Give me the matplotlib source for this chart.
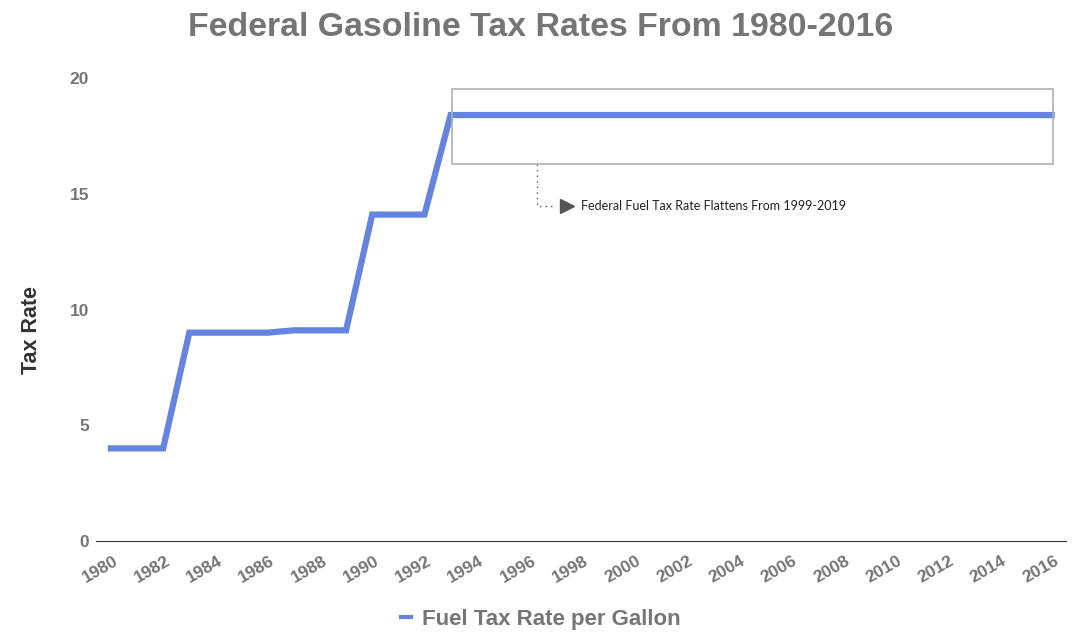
import numpy as np
import matplotlib.pyplot as plt
import matplotlib.transforms as mtransforms
from matplotlib.patches import Rectangle

years = list(range(1980, 2017))
tax_rate = [4.0, 4.0, 4.0, 9.0, 9.0, 9.0, 9.0, 9.1, 9.1, 9.1,
            14.1, 14.1, 14.1] + [18.4] * 24
tick_years = list(range(1980, 2017, 2))
y_ticks = [0, 5, 10, 15, 20]

grey = '#757575'
blue = '#6584e0'
plt.rcParams['font.family'] = ['Liberation Sans', 'DejaVu Sans']

fig = plt.figure(figsize=(10.82, 6.38), dpi=100)
ax = fig.add_axes([96/1082, 1-541/638, (1066-96)/1082, (541-78)/638])

ax.plot(years, tax_rate, color=blue, lw=4.5, solid_joinstyle='miter', label='Fuel Tax Rate per Gallon')

ax.set_xlim(1979.43, 2016.55)
ax.set_ylim(0, 20)
ax.set_xticks(tick_years)
ax.set_xticklabels([])
ax.set_yticks(y_ticks)
# rotated year labels, nudged left/down like the original
shift = mtransforms.ScaledTranslation(-11/100, -12/100, fig.dpi_scale_trans)
for yr in tick_years:
    ax.text(yr, 0, str(yr), transform=ax.get_xaxis_transform() + shift, rotation=30,
            ha='center', va='top', fontsize=12.5, fontweight='bold', color=grey)
for lab in ax.get_yticklabels():
    lab.set_fontweight('bold')
    lab.set_color(grey)
    lab.set_fontsize(12.5)
ax.tick_params(axis='y', length=0, pad=5)
ax.tick_params(axis='x', length=0)
for s in ['top', 'right', 'left']:
    ax.spines[s].set_visible(False)
ax.spines['bottom'].set_color('#333333')
ax.spines['bottom'].set_linewidth(0.8)

ax.set_ylabel('Tax Rate', fontsize=15.5, fontweight='bold', color='#333333')
ax.yaxis.set_label_coords(-0.056, 0.456)
fig.text(0.5, 1-27/638, 'Federal Gasoline Tax Rates From 1980-2016', ha='center', va='center',
         fontsize=24.4, fontweight='bold', color=grey)

# annotation box
ax.add_patch(Rectangle((1993.05, 16.29), 2016.05-1993.05, 19.53-16.29, fill=False,
                       ec='#b0b0b0', lw=1.2, zorder=3))
ax.plot([1996.3, 1996.3, 1997.0], [16.29, 14.47, 14.47], color='#555555', lw=1, ls=(0, (1, 3)))
ax.plot([1997.45], [14.47], marker='>', color='#555555', ms=10)
ax.text(1997.98, 14.47, 'Federal Fuel Tax Rate Flattens From 1999-2019', fontsize=9,
        family=['Lato', 'DejaVu Sans'], color='#222222', va='center')

leg = fig.legend(loc='center', bbox_to_anchor=(0.5, 1-619/638), frameon=False, handlelength=0.45,
                 handletextpad=0.5, prop={'weight': 'bold', 'size': 16})
for t in leg.get_texts():
    t.set_color(grey)
for h in leg.get_lines():
    h.set_linewidth(3)

fig.savefig('out.png', dpi=100)
